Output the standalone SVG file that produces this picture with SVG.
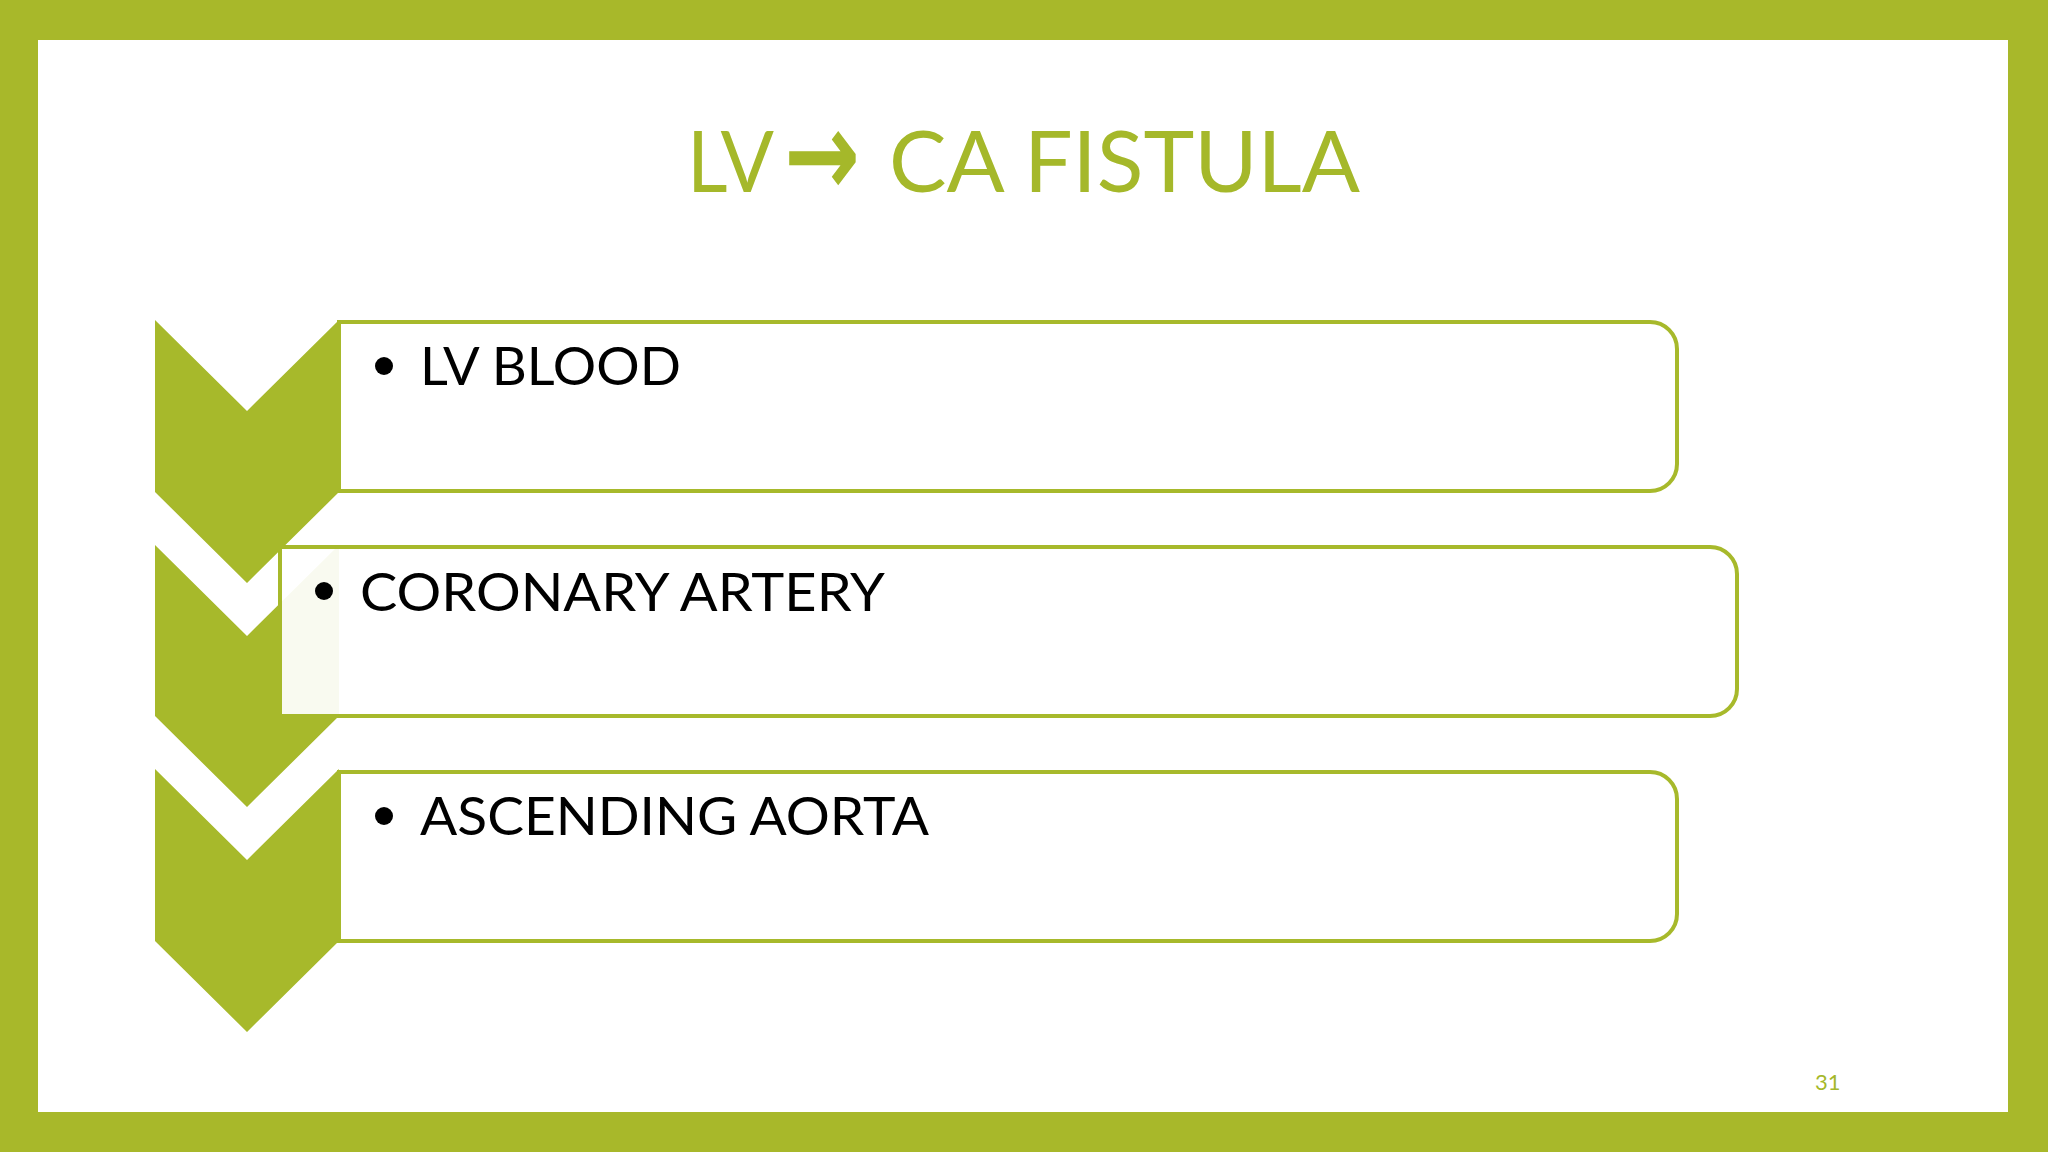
<svg xmlns="http://www.w3.org/2000/svg" width="2048" height="1152" viewBox="0 0 2048 1152">
<style>
.chev{fill:#A7B92B}
.box{fill:#FFFFFF;stroke:#A7B92B;stroke-width:4}
.title{font-family:Lato,"Open Sans",sans-serif;font-size:85px;fill:#A5B82A}
.arrow{font-family:"DejaVu Sans",sans-serif;font-weight:bold;font-size:120px;fill:#A5B82A}
.item{font-family:Lato,"Open Sans",sans-serif;font-size:53px;fill:#000000}
.num{font-family:Lato,"Open Sans",sans-serif;font-size:22px;fill:#A5B82A}
</style>
<rect x="0" y="0" width="2048" height="1152" fill="#A8B82A"/>
<rect x="38" y="40" width="1970" height="1072" fill="#FFFFFF"/>
<g id="title">
<text class="title" x="687" y="192" textLength="87" lengthAdjust="spacingAndGlyphs">LV</text>
<text class="arrow" x="784" y="196" textLength="76" lengthAdjust="spacingAndGlyphs">→</text>
<text class="title" x="889" y="192" textLength="471" lengthAdjust="spacingAndGlyphs">CA FISTULA</text>
</g>
<g id="connectors"></g>
<g id="step1">
<polygon class="chev" points="155,320 247,411 339,320 339,492 247,583 155,492"/>
<path class="box" d="M339,322 H1650 A27,27 0 0 1 1677,349 V464 A27,27 0 0 1 1650,491 H339 Z"/>
<circle cx="384" cy="366" r="9" fill="#000"/>
<text class="item" x="420" y="385" textLength="261" lengthAdjust="spacingAndGlyphs">LV BLOOD</text>
</g>
<g id="step2">
<polygon class="chev" points="155,545 247,636 339,545 339,716 247,807 155,716"/>
<path class="box" style="fill-opacity:0.93" d="M280,547 H1710 A27,27 0 0 1 1737,574 V689 A27,27 0 0 1 1710,716 H280 Z"/>
<circle cx="324" cy="591" r="9" fill="#000"/>
<text class="item" x="360" y="611" textLength="525" lengthAdjust="spacingAndGlyphs">CORONARY ARTERY</text>
</g>
<g id="step3">
<polygon class="chev" points="155,769 247,860 339,769 339,941 247,1032 155,941"/>
<path class="box" d="M339,772 H1650 A27,27 0 0 1 1677,799 V914 A27,27 0 0 1 1650,941 H339 Z"/>
<circle cx="384" cy="816" r="9" fill="#000"/>
<text class="item" x="420" y="835" textLength="509" lengthAdjust="spacingAndGlyphs">ASCENDING AORTA</text>
</g>
<text class="num" x="1815" y="1090">31</text>
</svg>
